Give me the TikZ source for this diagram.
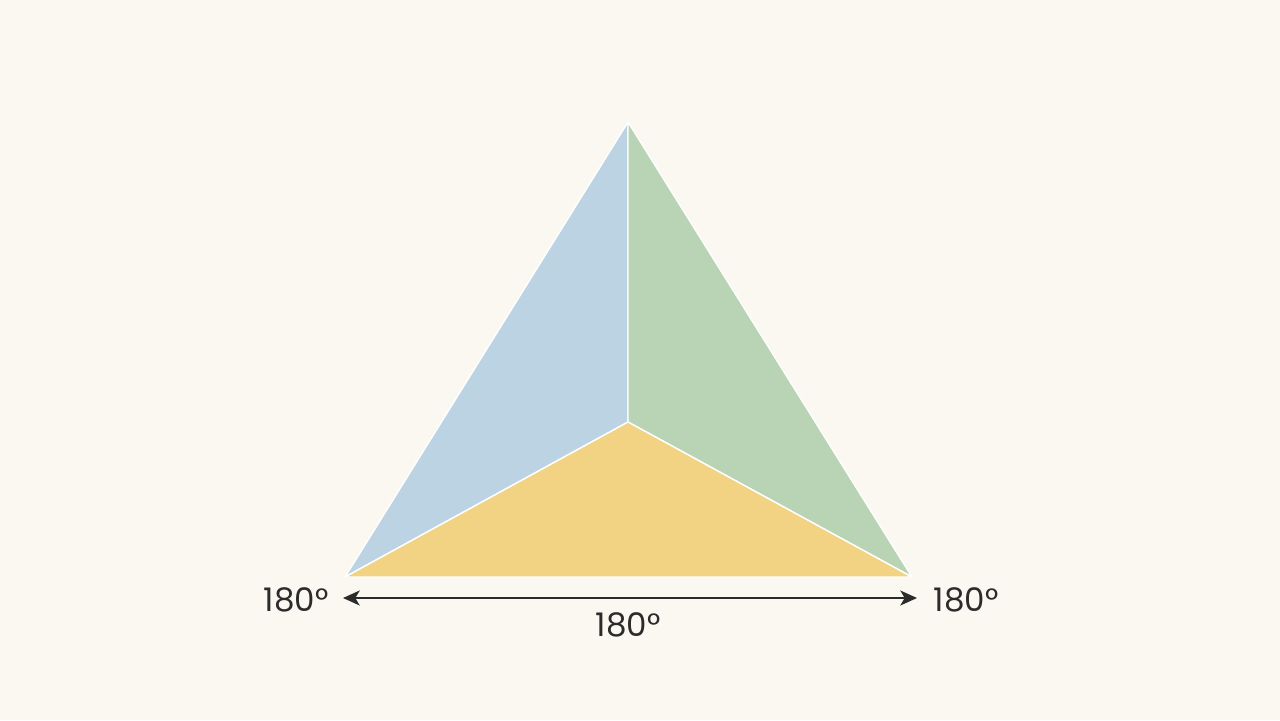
\documentclass[tikz,border=0pt]{standalone}
\usepackage{fontspec}
\setmainfont{Poppins}
\usetikzlibrary{arrows.meta}
\definecolor{paper}{HTML}{FAF8F0}
\definecolor{faceblue}{HTML}{BCD3E3}
\definecolor{facegreen}{HTML}{B9D4B4}
\definecolor{faceyellow}{HTML}{F2D283}
\definecolor{ink}{HTML}{2B2B2B}
\tikzset{
  face/.style={draw=white,line width=0.8pt,line join=round},
  anglabel/.style={text=ink,font=\fontsize{18.5}{22}\selectfont,inner sep=0pt}
}
\begin{document}
\begin{tikzpicture}[x=0.02cm,y=-0.02cm]
    \fill[paper] (0,0) rectangle (1280,720) ;
    %% corners of the triangle
         \coordinate (apex) at (628,122) ;
         \coordinate (left) at (345,577) ;
         \coordinate (right) at (912,577) ;
         \coordinate (mid) at (628,422) ;
         \draw[face,fill=faceblue] (apex) -- (mid) -- (left) -- cycle ;
         \draw[face,fill=facegreen] (apex) -- (right) -- (mid) -- cycle ;
         \draw[face,fill=faceyellow] (left) -- (mid) -- (right) -- cycle ;
    %% the flattened angle
         \coordinate (arrowL) at (343,598) ;
         \coordinate (arrowR) at (917,598) ;
         \draw[{Stealth[length=9.5pt,width=8.5pt,inset=2.5pt]}-{Stealth[length=9.5pt,width=8.5pt,inset=2.5pt]},color=ink,line width=1.1pt] (arrowL) -- (arrowR) ;
         \node[anglabel] (labL) at (296,600) {180°} ;
         \node[anglabel] (labR) at (966,600) {180°} ;
         \node[anglabel] (labM) at (628,625) {180°} ;
       \end{tikzpicture}
\end{document}
